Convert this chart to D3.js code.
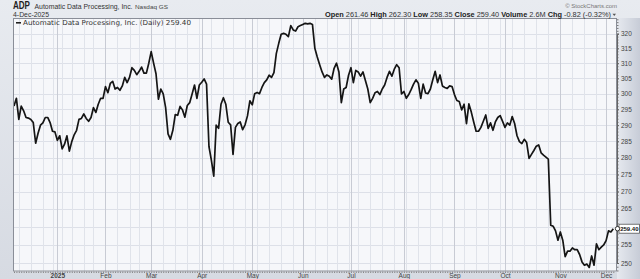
<!DOCTYPE html>
<html>
<head>
<meta charset="utf-8">
<script src="https://cdn.jsdelivr.net/npm/d3@7"></script>
<style>
  body { margin: 0; background: #dfe2e9; }
  svg { display: block; }
</style>
</head>
<body>
<div id="chart"></div>
<script>
// daily closes, 5-Dec-2024 .. 4-Dec-2025
var closes = [
  296.0, 298.5, 291.8, 296.0, 294.5, 292.4, 292.2, 291.8, 290.8, 284.4,
  287.5, 290.0, 290.7, 292.4, 292.4, 290.8, 288.1, 287.9, 285.3, 286.7,
  282.7, 284.1, 286.7, 282.0, 284.9, 287.0, 288.4, 291.8, 292.1, 293.5,
  292.1, 291.2, 292.4, 295.5, 294.0, 296.6, 298.5, 298.5, 302.3, 300.3,
  303.3, 304.0, 301.5, 302.0, 301.1, 302.5, 305.3, 303.6, 305.3, 308.5,
  307.6, 306.2, 307.3, 308.7, 306.7, 306.7, 310.0, 313.9, 310.0, 306.5,
  298.2, 301.5, 299.9, 295.5, 287.3, 285.6, 288.4, 293.3, 293.1, 295.9,
  294.8, 292.5, 296.2, 297.1, 299.9, 302.8, 298.5, 302.8, 303.7, 304.8,
  303.1, 283.4, 279.3, 274.5, 290.0, 289.0, 296.6, 298.7, 296.6, 290.9,
  290.1, 281.0, 289.3, 290.5, 291.0, 288.6, 290.1, 292.9, 297.7, 296.4,
  300.0, 300.4, 300.0, 302.0, 303.6, 304.5, 306.0, 305.3, 306.9, 313.3,
  316.7, 319.8, 320.1, 319.8, 319.0, 322.8, 321.3, 320.9, 322.4, 322.8,
  323.2, 323.6, 323.4, 323.6, 323.2, 315.0, 312.1, 309.5, 307.1, 305.3,
  306.1, 305.7, 304.7, 308.3, 310.0, 307.1, 297.1, 301.5, 302.0, 306.0,
  308.5, 303.6, 307.6, 307.1, 305.7, 307.1, 304.3, 301.5, 297.1, 298.5,
  300.3, 300.7, 299.7, 301.5, 302.8, 305.3, 307.3, 305.7, 308.0, 309.5,
  308.5, 299.9, 300.7, 298.5, 299.7, 301.3, 303.1, 304.5, 303.4, 298.5,
  303.1, 300.2, 300.0, 301.5, 304.5, 307.3, 303.6, 306.1, 302.5, 302.0,
  301.7, 302.5, 302.3, 299.7, 297.8, 297.5, 294.8, 296.6, 290.5, 296.7,
  294.1, 291.0, 288.1, 288.1, 289.3, 291.2, 293.2, 289.0, 290.7, 288.4,
  291.0, 292.4, 293.0, 291.2, 289.3, 290.7, 290.0, 292.7, 290.5, 286.7,
  284.9, 284.3, 285.6, 284.6, 279.8, 281.0, 282.2, 283.5, 283.9, 281.5,
  280.8, 280.2, 279.6, 260.4, 260.1, 258.8, 256.2, 258.5, 256.2, 251.7,
  253.2, 253.2, 254.1, 253.6, 253.6, 252.3, 250.3, 249.4, 249.7, 248.8,
  251.9, 249.4, 255.2, 253.6, 254.3, 254.9, 256.1, 258.8, 258.5, 259.4
];

// market holidays in the window (no session on these days)
var holidays = [
  "2024-12-25", "2025-01-01", "2025-01-09", "2025-01-20", "2025-02-17",
  "2025-04-18", "2025-05-26", "2025-06-19", "2025-07-04", "2025-09-01", "2025-11-27"
];

var monthLabels = ["2025", "Feb", "Mar", "Apr", "May", "Jun", "Jul", "Aug", "Sep", "Oct", "Nov", "Dec"];
var yTicks = [250, 255, 260, 265, 270, 275, 280, 285, 290, 295, 300, 305, 310, 315, 320];

var W = 640, H = 279;
var pLeft = 13, pRight = 617, pTop = 18, pBottom = 271.5;

// trading calendar so month/week gridlines land on real session days
var fmt = d3.timeFormat("%Y-%m-%d");
var dates = [];
var d = new Date(2024, 11, 5);
while (dates.length < closes.length) {
  if (d.getDay() > 0 && d.getDay() < 6 && holidays.indexOf(fmt(d)) < 0) dates.push(new Date(d));
  d.setDate(d.getDate() + 1);
}
var monthIdx = [], weekIdx = [];
for (var i = 1; i < dates.length; i++) {
  if (dates[i].getMonth() != dates[i - 1].getMonth()) monthIdx.push(i);
  else if (dates[i].getDay() < dates[i - 1].getDay()) weekIdx.push(i);
}

var x = d3.scaleLinear().domain([0, closes.length - 1]).range([14, 613.3]);
var y = d3.scaleLog().domain([250, 320]).range([263, 33.7]);
var last = closes[closes.length - 1];

var svg = d3.select("#chart").append("svg")
  .attr("width", W).attr("height", H);

var defs = svg.append("defs");
var g1 = defs.append("linearGradient").attr("id", "bg").attr("x1", 0).attr("y1", 0).attr("x2", 0).attr("y2", 1);
g1.append("stop").attr("offset", "0%").attr("stop-color", "#e8ebf0");
g1.append("stop").attr("offset", "100%").attr("stop-color", "#d6dae2");
var g2 = defs.append("linearGradient").attr("id", "rbg").attr("x1", 0).attr("y1", 0).attr("x2", 1).attr("y2", 0);
g2.append("stop").attr("offset", "0%").attr("stop-color", "#e6e9ef");
g2.append("stop").attr("offset", "100%").attr("stop-color", "#c7ccd7");
defs.append("clipPath").attr("id", "plotclip")
  .append("rect").attr("x", pLeft).attr("y", pTop).attr("width", pRight - pLeft).attr("height", pBottom - pTop);

svg.append("rect").attr("width", W).attr("height", H).attr("fill", "url(#bg)");
svg.append("rect").attr("x", pRight).attr("y", pTop).attr("width", W - pRight).attr("height", H - pTop).attr("fill", "url(#rbg)");

// plot background
svg.append("rect")
  .attr("x", pLeft).attr("y", pTop).attr("width", pRight - pLeft).attr("height", pBottom - pTop)
  .attr("fill", "#f6f7fa");

// gridlines
var grid = svg.append("g").attr("clip-path", "url(#plotclip)");
grid.selectAll(".hg").data(yTicks).enter().append("line")
  .attr("x1", pLeft).attr("x2", pRight)
  .attr("y1", d => Math.round(y(d)) + 0.5).attr("y2", d => Math.round(y(d)) + 0.5)
  .attr("stroke", "#dde0e8").attr("stroke-width", 1);
grid.selectAll(".wg").data(weekIdx).enter().append("line")
  .attr("x1", d => Math.round(x(d)) + 0.5).attr("x2", d => Math.round(x(d)) + 0.5)
  .attr("y1", pTop).attr("y2", pBottom)
  .attr("stroke", "#e0e3ea").attr("stroke-width", 1);
grid.selectAll(".mg").data(monthIdx).enter().append("line")
  .attr("x1", d => Math.round(x(d)) + 0.5).attr("x2", d => Math.round(x(d)) + 0.5)
  .attr("y1", pTop).attr("y2", pBottom)
  .attr("stroke", "#c8cbd4").attr("stroke-width", 1);

// price line
var line = d3.line()
  .x((d, i) => x(i))
  .y(d => y(d));
svg.append("path")
  .datum(closes)
  .attr("clip-path", "url(#plotclip)")
  .attr("d", line)
  .attr("fill", "none")
  .attr("stroke", "#151515")
  .attr("stroke-width", 1.7)
  .attr("stroke-linejoin", "round");

// frame
svg.append("rect")
  .attr("x", pLeft + 0.5).attr("y", pTop + 0.5).attr("width", pRight - pLeft - 1).attr("height", pBottom - pTop - 1)
  .attr("fill", "none").attr("stroke", "#8a8e98").attr("stroke-width", 1);

// right axis
var yMinor = svg.append("g").attr("transform", "translate(" + pRight + ",0)")
  .call(d3.axisRight(y).tickValues(d3.range(248, 326)).tickFormat("").tickSize(1.5));
yMinor.select(".domain").remove();
yMinor.selectAll("line").attr("stroke", "#777");

var yAxis = svg.append("g").attr("transform", "translate(" + pRight + ",0)")
  .call(d3.axisRight(y).tickValues(yTicks).tickFormat(d3.format("d")).tickSize(2).tickPadding(2));
yAxis.select(".domain").attr("stroke", "#666");
yAxis.selectAll("line").attr("stroke", "#666");
yAxis.selectAll("text")
  .attr("fill", "#444").style("font", "6.5px 'Liberation Sans', Arial, sans-serif");
// the label sitting under the last-price tag is hidden, as on the original
yAxis.selectAll(".tick").filter(d => Math.abs(y(d) - y(last)) < 6).select("text").remove();

// bottom axis
var xMinor = svg.append("g").attr("transform", "translate(0," + pBottom + ")")
  .call(d3.axisBottom(x).tickValues(d3.range(0, closes.length)).tickFormat("").tickSize(1.5));
xMinor.select(".domain").remove();
xMinor.selectAll("line").attr("stroke", "#888");

var xAxis = svg.append("g").attr("transform", "translate(0," + pBottom + ")")
  .call(d3.axisBottom(x).tickValues(monthIdx).tickFormat((d, i) => monthLabels[i]).tickSize(0).tickPadding(2));
xAxis.select(".domain").remove();
xAxis.selectAll("text")
  .attr("fill", "#444")
  .style("font", "6.5px 'Liberation Sans', Arial, sans-serif")
  .style("font-weight", (d, i) => i == 0 ? "bold" : "normal");

// last price tag
var tag = svg.append("g").attr("transform", "translate(0," + y(last) + ")");
tag.append("rect").attr("x", 619).attr("y", -4.5).attr("width", 20.5).attr("height", 9)
  .attr("fill", "#fff").attr("stroke", "#555").attr("stroke-width", 0.8);
tag.append("text").attr("x", 620.2).attr("y", 2.3)
  .attr("fill", "#111").style("font", "bold 6px 'Liberation Sans', Arial, sans-serif")
  .text(d3.format(".2f")(last));
tag.append("circle").attr("cx", 617.5).attr("cy", 0).attr("r", 2.2)
  .attr("fill", "#fff").attr("stroke", "#222").attr("stroke-width", 0.9);

// legend inside plot
svg.append("line").attr("x1", 16).attr("x2", 21).attr("y1", 22.8).attr("y2", 22.8)
  .attr("stroke", "#151515").attr("stroke-width", 1.5);
svg.append("text").attr("x", 23).attr("y", 25)
  .attr("textLength", 168).attr("lengthAdjust", "spacingAndGlyphs")
  .attr("fill", "#333").style("font", "6.8px 'DejaVu Sans', Verdana, sans-serif")
  .text("Automatic Data Processing, Inc. (Daily) " + d3.format(".2f")(last));

// header
svg.append("text").attr("x", 13).attr("y", 9)
  .attr("textLength", 17).attr("lengthAdjust", "spacingAndGlyphs")
  .attr("fill", "#1e1e1e").style("font", "bold 10px 'Liberation Sans', Arial, sans-serif")
  .text("ADP");
svg.append("text").attr("x", 34.5).attr("y", 8.5)
  .attr("textLength", 98).attr("lengthAdjust", "spacingAndGlyphs")
  .attr("fill", "#333").style("font", "7px 'Liberation Sans', Arial, sans-serif")
  .text("Automatic Data Processing, Inc.");
svg.append("text").attr("x", 135).attr("y", 8.5)
  .attr("textLength", 33).attr("lengthAdjust", "spacingAndGlyphs")
  .attr("fill", "#444").style("font", "6px 'Liberation Sans', Arial, sans-serif")
  .text("Nasdaq GS");
svg.append("text").attr("x", 13).attr("y", 16.5)
  .attr("textLength", 36).attr("lengthAdjust", "spacingAndGlyphs")
  .attr("fill", "#333").style("font", "6.5px 'Liberation Sans', Arial, sans-serif")
  .text("4-Dec-2025");

svg.append("text").attr("x", 617).attr("y", 8).attr("text-anchor", "end")
  .attr("fill", "#777").style("font", "6px 'Liberation Sans', Arial, sans-serif")
  .text("\u00a9 StockCharts.com");

var quote = [
  ["Open", "261.46"], ["High", "262.30"], ["Low", "258.35"],
  ["Close", "259.40"], ["Volume", "2.6M"], ["Chg", "-0.82 (-0.32%)"]
];
var qt = svg.append("text").attr("x", 325).attr("y", 16.5)
  .attr("textLength", 286).attr("lengthAdjust", "spacingAndGlyphs")
  .attr("fill", "#333").style("font", "7px 'Liberation Sans', Arial, sans-serif");
quote.forEach(function(q, i) {
  qt.append("tspan").style("font-weight", "bold").attr("fill", "#222").text((i ? "  " : "") + q[0] + " ");
  qt.append("tspan").text(q[1]);
});
svg.append("path").attr("d", "M612.5,13.8 L616,13.8 L614.25,16 Z").attr("fill", "#555");
</script>
</body>
</html>
